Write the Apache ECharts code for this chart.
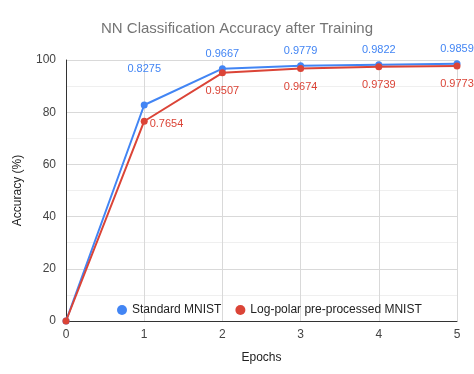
<!DOCTYPE html>
<html>
<head>
<meta charset="utf-8">
<script src="https://cdn.jsdelivr.net/npm/echarts@6/dist/echarts.min.js"></script>
<style>html,body{margin:0;padding:0;background:#fff}#c{width:474px;height:374px}</style>
</head>
<body>
<div id="c"></div>
<script>
// Data
const epochs = [0, 1, 2, 3, 4, 5];
const standardAcc = [0, 0.8275, 0.9667, 0.9779, 0.9822, 0.9859];
const logPolarAcc = [0, 0.7654, 0.9507, 0.9674, 0.9739, 0.9773];
const seriesNames = ['Standard MNIST', 'Log-polar pre-processed MNIST'];
const yTicks = [0, 20, 40, 60, 80, 100];

// Label placement (style only)
const blueLabelStyle = [null, {position: 'top', distance: 27}, {position: 'top'}, {position: 'top'}, {position: 'top'}, {position: 'top'}];
const redLabelStyle = [null, {position: 'right', distance: 2, offset: [0, 3]}, {position: 'bottom'}, {position: 'bottom'}, {position: 'bottom'}, {position: 'bottom'}];

function build(vals, styles, color, dist) {
  return epochs.map((e, i) => {
    const item = {value: [e, vals[i] * 100], raw: vals[i]};
    if (styles[i]) {
      item.label = Object.assign({show: true, color: color, fontSize: 11, distance: dist,
        fontFamily: 'Arial, Liberation Sans, sans-serif',
        formatter: p => p.data.raw.toFixed(4)}, styles[i]);
    } else {
      item.label = {show: false};
    }
    return item;
  });
}

const chart = echarts.init(document.getElementById('c'));
chart.setOption({
  animation: false,
  title: {
    text: 'NN Classification Accuracy after Training',
    left: 'center', top: 16,
    textStyle: {fontFamily: 'Arial, Liberation Sans, sans-serif', fontSize: 15, fontWeight: 'normal', color: '#757575'}
  },
  legend: {
    data: seriesNames,
    top: 299, left: 112,
    icon: 'circle', itemWidth: 10, itemHeight: 10, itemGap: 14,
    textStyle: {fontFamily: 'Arial, Liberation Sans, sans-serif', fontSize: 12, color: '#222'}
  },
  grid: {left: 66, right: 17, top: 60, bottom: 53, containLabel: false},
  xAxis: {
    type: 'value', min: 0, max: 5, interval: 1,
    name: 'Epochs', nameLocation: 'middle', nameGap: 31,
    nameTextStyle: {fontFamily: 'Arial, Liberation Sans, sans-serif', fontSize: 12, color: '#222'},
    axisLine: {show: true, lineStyle: {color: '#333', width: 1}},
    axisTick: {show: false},
    axisLabel: {fontFamily: 'Arial, Liberation Sans, sans-serif', fontSize: 12, color: '#444', margin: 8},
    splitLine: {show: true, lineStyle: {color: '#d9d9d9'}}
  },
  yAxis: {
    type: 'value', min: yTicks[0], max: yTicks[yTicks.length - 1], interval: 20,
    name: 'Accuracy (%)', nameLocation: 'middle', nameGap: 42,
    nameTextStyle: {fontFamily: 'Arial, Liberation Sans, sans-serif', fontSize: 12, color: '#222'},
    axisLine: {show: true, lineStyle: {color: '#333', width: 1}},
    axisTick: {show: false},
    axisLabel: {fontFamily: 'Arial, Liberation Sans, sans-serif', fontSize: 12, color: '#444', margin: 10},
    splitLine: {show: true, lineStyle: {color: '#d9d9d9'}},
    minorTick: {show: false, splitNumber: 2},
    minorSplitLine: {show: true, lineStyle: {color: '#efefef'}}
  },
  series: [
    {
      name: seriesNames[0], type: 'line', color: '#4285F4',
      data: build(standardAcc, blueLabelStyle, '#4285F4', 6),
      symbol: 'circle', symbolSize: 7, lineStyle: {width: 2}, z: 2
    },
    {
      name: seriesNames[1], type: 'line', color: '#DB4437',
      data: build(logPolarAcc, redLabelStyle, '#DB4437', 9),
      symbol: 'circle', symbolSize: 7, lineStyle: {width: 2}, z: 3
    }
  ]
});
</script>
</body>
</html>
